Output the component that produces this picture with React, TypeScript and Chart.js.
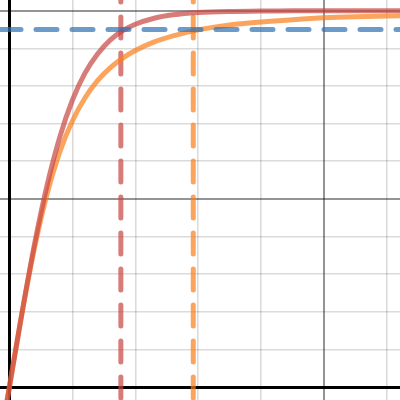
import { useEffect, useRef } from "react"
import { Chart, registerables } from "chart.js"

Chart.register(...registerables)

// visible window of the graph (units: x = time, y = fraction of final value)
const xMin = -0.149
const xMax = 6.203
const yMin = -0.0345
const yMax = 1.0284

// grid line positions
const xGridTicks = [0, 1, 2, 3, 4, 5, 6]
const yGridTicks = [0, 0.1, 0.2, 0.3, 0.4, 0.5, 0.6, 0.7, 0.8, 0.9, 1.0]

const times = [-0.2, 0, 0.2, 0.4, 0.6, 0.8, 1.0, 1.2, 1.4, 1.6, 1.8, 2.0, 2.3, 2.6, 3.0, 3.5, 4.0, 4.5, 5.0, 5.5, 6.0, 6.5]
const fastValues = [-0.197, 0, 0.197, 0.38, 0.537, 0.664, 0.762, 0.834, 0.885, 0.922, 0.947, 0.964, 0.98, 0.989, 0.995, 0.998, 0.999, 1.0, 1.0, 1.0, 1.0, 1.0]
const slowValues = [-0.196, 0, 0.196, 0.371, 0.514, 0.625, 0.707, 0.768, 0.814, 0.848, 0.874, 0.894, 0.917, 0.933, 0.949, 0.962, 0.97, 0.976, 0.981, 0.984, 0.986, 0.988]

// 95% level and where each curve reaches it
const threshold = 0.95
const fastCrossing = 1.77
const slowCrossing = 2.92

const RED = "rgba(199, 68, 64, 0.7)"
const ORANGE = "rgba(250, 126, 25, 0.7)"
const BLUE = "rgba(45, 112, 179, 0.7)"

export default function App() {
  const chartRef = useRef<HTMLCanvasElement>(null)
  const chartInstance = useRef<Chart | null>(null)

  useEffect(() => {
    if (!chartRef.current) return
    if (chartInstance.current) chartInstance.current.destroy()

    const ctx = chartRef.current.getContext("2d")
    if (!ctx) return

    const dashed = {
      showLine: true,
      pointRadius: 0,
      borderWidth: 5,
      borderDash: [21, 15],
      borderCapStyle: "round" as const,
      tension: 0,
    }

    chartInstance.current = new Chart(ctx, {
      type: "scatter",
      data: {
        datasets: [
          {
            ...dashed,
            data: [
              { x: xMin, y: threshold },
              { x: xMax, y: threshold },
            ],
            borderColor: BLUE,
            borderDashOffset: 0,
          },
          {
            showLine: true,
            pointRadius: 0,
            borderWidth: 5,
            borderColor: RED,
            cubicInterpolationMode: "monotone",
            data: times.map((t, i) => ({ x: t, y: fastValues[i] })),
          },
          {
            showLine: true,
            pointRadius: 0,
            borderWidth: 5,
            borderColor: ORANGE,
            cubicInterpolationMode: "monotone",
            data: times.map((t, i) => ({ x: t, y: slowValues[i] })),
          },
          {
            ...dashed,
            data: [
              { x: fastCrossing, y: yMax },
              { x: fastCrossing, y: yMin },
            ],
            borderColor: RED,
            borderDashOffset: 19,
          },
          {
            ...dashed,
            data: [
              { x: slowCrossing, y: yMax },
              { x: slowCrossing, y: yMin },
            ],
            borderColor: ORANGE,
            borderDashOffset: 19,
          },
        ],
      },
      options: {
        responsive: false,
        animation: false,
        events: [],
        layout: { padding: 0 },
        plugins: {
          legend: { display: false },
          tooltip: { enabled: false },
        },
        scales: {
          x: {
            type: "linear",
            min: xMin,
            max: xMax,
            afterBuildTicks: (axis) => {
              axis.ticks = xGridTicks.map((value) => ({ value }))
            },
            ticks: { display: false },
            border: { display: false },
            grid: {
              drawTicks: false,
              color: (c) => {
                const v = c.tick.value
                if (v === 0) return "#000"
                if (v % 5 === 0) return "rgba(0,0,0,0.42)"
                return "rgba(0,0,0,0.14)"
              },
              lineWidth: (c) => {
                const v = c.tick.value
                if (v === 0) return 3
                if (v % 5 === 0) return 2
                return 1.6
              },
            },
          },
          y: {
            type: "linear",
            min: yMin,
            max: yMax,
            afterBuildTicks: (axis) => {
              axis.ticks = yGridTicks.map((value) => ({ value }))
            },
            ticks: { display: false },
            border: { display: false },
            grid: {
              drawTicks: false,
              color: (c) => {
                const v = Math.round(c.tick.value * 10)
                if (v === 0) return "#000"
                if (v % 5 === 0) return "rgba(0,0,0,0.42)"
                return "rgba(0,0,0,0.14)"
              },
              lineWidth: (c) => {
                const v = Math.round(c.tick.value * 10)
                if (v === 0) return 3
                if (v % 5 === 0) return 2
                return 1.6
              },
            },
          },
        },
      },
    })

    return () => {
      if (chartInstance.current) {
        chartInstance.current.destroy()
        chartInstance.current = null
      }
    }
  }, [])

  return (
    <div style={{ position: "fixed", left: 0, top: 0, width: 400, height: 400, background: "#fff" }}>
      <canvas ref={chartRef} width={400} height={400} />
    </div>
  )
}
